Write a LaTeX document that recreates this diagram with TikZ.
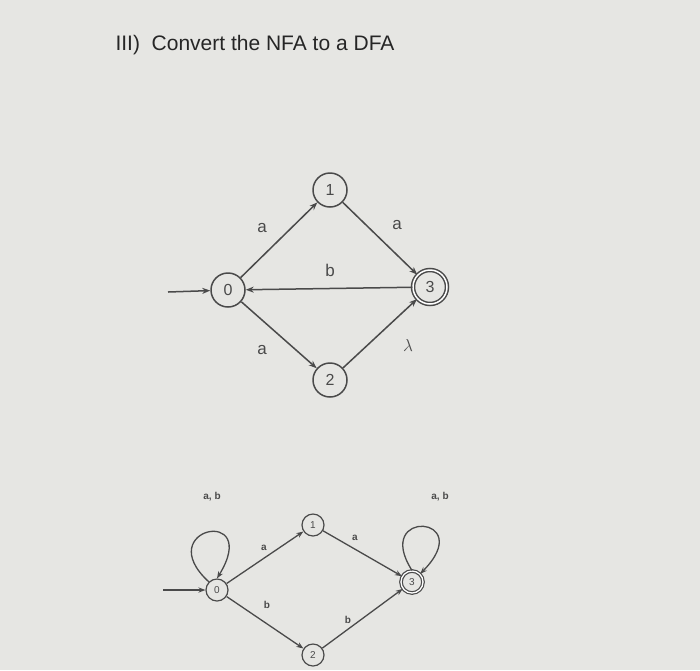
\documentclass[tikz,border=0pt]{standalone}
\usepackage{fontspec}
\setmainfont{Liberation Sans}
\usetikzlibrary{arrows.meta}
\definecolor{bg}{HTML}{E6E6E3}
\definecolor{ink}{HTML}{4A4A4A}
\begin{document}
\begin{tikzpicture}[x=1pt,y=-1pt,
  st/.style={circle,draw=ink,line width=1.5pt,minimum size=34pt,inner sep=0pt,font=\fontsize{16}{16}\selectfont,text=ink},
  acc/.style={st,double,double distance=1.5pt},
  sst/.style={circle,draw=ink,line width=1.2pt,minimum size=22pt,inner sep=0pt,font=\fontsize{10}{10}\selectfont,text=ink},
  sacc/.style={sst,double,double distance=1.3pt},
  ed/.style={-{Stealth[length=8pt]},draw=ink,line width=1.5pt},
  sed/.style={-{Stealth[length=7pt]},draw=ink,line width=1.3pt},
  lab/.style={text=ink,font=\fontsize{17}{17}\selectfont},
  slab/.style={text=ink,font=\bfseries\fontsize{10}{10}\selectfont}]
\fill[bg] (0,0) rectangle (700,670);
\useasboundingbox (0,0) rectangle (700,670);
\node[anchor=west,font=\fontsize{21}{21}\selectfont,text=black!85] (title) at (112,45) {III)\ \ Convert the NFA to a DFA};
% top NFA
\node[st] (n0) at (228,290) {0};
\node[st] (n1) at (330,190) {1};
\node[acc] (n3) at (430,287) {3};
\node[st] (n2) at (330,380) {2};
\coordinate (s0) at (168,292);
\draw[ed] (s0) -- (n0);
\draw[ed] (n0) -- (n1);
\draw[ed] (n1) -- (n3);
\draw[ed] (n3) -- (n0);
\draw[ed] (n0) -- (n2);
\draw[ed] (n2) -- (n3);
\node[lab] (la1) at (262,228) {a};
\node[lab] (la2) at (397,225) {a};
\node[lab] (lb) at (330,270) {b};
\node[lab] (la3) at (262,350) {a};
\node[lab] (ll) at (408,345) {$\lambda$};
% bottom DFA
\node[sst] (m0) at (217,590) {0};
\node[sst] (m1) at (313,525) {1};
\node[sacc] (m3) at (412,582) {3};
\node[sst] (m2) at (313,655) {2};
\coordinate (t0) at (163,590);
\draw[sed] (t0) -- (m0);
\draw[sed] (m0) -- (m1);
\draw[sed] (m1) -- (m3);
\draw[sed] (m0) -- (m2);
\draw[sed] (m2) -- (m3);
\coordinate (p1) at (150,528);
\coordinate (p2) at (262,505);
\draw[sed] (m0.north west) .. controls (p1) and (p2) .. (m0.north);
\coordinate (q1) at (372,508);
\coordinate (q2) at (478,515);
\draw[sed] (m3.north) .. controls (q1) and (q2) .. (m3.north east);
\node[slab] (c1) at (264,548) {a};
\node[slab] (c2) at (355,538) {a};
\node[slab] (c3) at (267,605) {b};
\node[slab] (c4) at (348,620) {b};
\node[slab] (c5) at (212,497) {a, b};
\node[slab] (c6) at (440,497) {a, b};
\end{tikzpicture}
\end{document}
